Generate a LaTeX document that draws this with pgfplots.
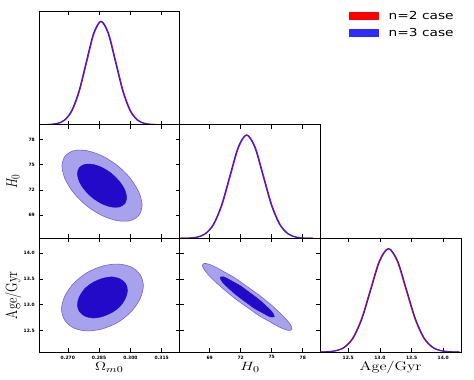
\documentclass[border=0pt]{standalone}
\usepackage{fontspec}
\usepackage{pgfplots}
\pgfplotsset{compat=1.18}
\newfontfamily\tickfont{DejaVu Sans}
\newfontfamily\legfont[FakeStretch=1.25]{DejaVu Sans}
\definecolor{bline}{RGB}{45,30,225}
\definecolor{rline}{RGB}{235,20,20}
\definecolor{outerc}{RGB}{168,162,236}
\definecolor{innerc}{RGB}{35,10,200}
\definecolor{edgec}{RGB}{125,95,205}
\pgfplotsset{
 cbase/.style={scale only axis, width=140.67pt, height=113.67pt, anchor=south west,
   axis line style={line width=0.9pt, black},
   every tick/.style={black, line width=0.6pt},
   major tick length=4pt, tick align=inside, xtick pos=both, ytick pos=both,
   /pgf/number format/assume math mode=true,
   ticklabel style={font=\tickfont\bfseries\fontsize{4.5}{5}\selectfont, inner sep=0pt},
   xticklabel style={yshift=-3.5pt}, yticklabel style={xshift=-4pt},
   every axis x label/.style={at={(axis description cs:0.5,-0.167)}, anchor=base, xscale=1.3, font=\fontsize{12.5}{14}\selectfont},
   every axis y label/.style={at={(axis description cs:-0.156,0.5)}, rotate=90, yscale=1.3, anchor=base, font=\fontsize{12.5}{14}\selectfont},
 },
 oned/.style={ymin=0, ymax=1.1, ytick=\empty},
 cA/.style={xmin=0.2562, xmax=0.3236, xtick={0.27,0.285,0.3,0.315}},
 cB/.style={xmin=66.1, xmax=79.7, xtick={69,72,75,78}},
 cC/.style={xmin=12.06, xmax=14.28, xtick={12.5,13,13.5,14}},
 rH/.style={ymin=66.2, ymax=79.8, ytick={69,72,75,78}},
 rA/.style={ymin=12.08, ymax=14.29, ytick={12.5,13,13.5,14}},
 bcurve/.style={bline, line width=1.1pt, smooth, forget plot},
 rcurve/.style={rline, line width=1.1pt, smooth, forget plot},
 outerfill/.style={fill=outerc, draw=edgec, line width=0.6pt, smooth cycle, forget plot},
 innerfill/.style={fill=innerc, draw=innerc, line width=0.4pt, smooth cycle, forget plot},
}
\begin{document}
\begin{tikzpicture}
\path[use as bounding box] (0,0) rectangle (474pt,380pt);
% ---------------- row 1: Omega 1D
\begin{axis}[cbase, oned, cA, at={(39pt,255.33pt)}, xticklabels={},
  legend style={draw=none, fill=none, at={(rel axis cs:2.204,1.012)}, anchor=north west,
     inner sep=0pt, font=\legfont\fontsize{11}{13}\selectfont, row sep=4pt, column sep=8pt, nodes={inner sep=1.5pt}},
  legend cell align=left,
  legend image code/.code={\fill[#1] (0pt,-3.8pt) rectangle (30pt,3.8pt);}]
\addplot[rcurve] coordinates {(0.2581,0.0003)(0.2616,0.0022)(0.2651,0.0111)(0.2686,0.0439)(0.2721,0.1353)(0.2756,0.3247)(0.2791,0.6065)(0.2826,0.8825)(0.2861,1)(0.2896,0.8825)(0.2931,0.6065)(0.2966,0.3247)(0.3001,0.1353)(0.3036,0.0439)(0.3071,0.0111)(0.3106,0.0022)(0.3141,0.0003)};
\addplot[bcurve] coordinates {(0.2578,0.0003)(0.2613,0.0022)(0.2648,0.0111)(0.2683,0.0439)(0.2718,0.1353)(0.2753,0.3247)(0.2788,0.6065)(0.2823,0.8825)(0.2858,1)(0.2893,0.8825)(0.2928,0.6065)(0.2963,0.3247)(0.2998,0.1353)(0.3033,0.0439)(0.3068,0.0111)(0.3103,0.0022)(0.3138,0.0003)};
\addlegendimage{fill=red, draw=none}
\addlegendentry{n=2 case}
\addlegendimage{fill={rgb,255:red,45;green,45;blue,255}, draw=none}
\addlegendentry{n=3 case}
\end{axis}
% ---------------- row 2: H0 vs Omega
\begin{axis}[cbase, cA, rH, at={(39pt,141.67pt)}, xticklabels={}, yticklabels={69,72,75,78}, ylabel={$H_0$}]
\addplot[outerfill] coordinates {(0.3056,70.15)(0.3041,71.70)(0.3000,73.36)(0.2938,74.90)(0.2864,76.07)(0.2790,76.69)(0.2728,76.68)(0.2687,76.03)(0.2672,74.85)(0.2687,73.30)(0.2728,71.64)(0.2790,70.10)(0.2864,68.93)(0.2938,68.31)(0.3000,68.32)(0.3041,68.97)};
\addplot[innerfill] coordinates {(0.2982,71.07)(0.2973,72.01)(0.2947,73.02)(0.2909,73.96)(0.2864,74.67)(0.2819,75.05)(0.2781,75.05)(0.2755,74.65)(0.2746,73.93)(0.2755,72.99)(0.2781,71.98)(0.2819,71.04)(0.2864,70.33)(0.2909,69.95)(0.2947,69.95)(0.2973,70.35)};
\end{axis}
% ---------------- row 2: H0 1D
\begin{axis}[cbase, oned, cB, at={(179.67pt,141.67pt)}, xticklabels={}]
\addplot[rcurve] coordinates {(66.21,0.0003)(67.01,0.0022)(67.81,0.0111)(68.61,0.0439)(69.41,0.1353)(70.21,0.3247)(71.01,0.6065)(71.81,0.8825)(72.61,1)(73.41,0.8825)(74.21,0.6065)(75.01,0.3247)(75.81,0.1353)(76.61,0.0439)(77.41,0.0111)(78.21,0.0022)(79.01,0.0003)};
\addplot[bcurve] coordinates {(66.15,0.0003)(66.95,0.0022)(67.75,0.0111)(68.55,0.0439)(69.35,0.1353)(70.15,0.3247)(70.95,0.6065)(71.75,0.8825)(72.55,1)(73.35,0.8825)(74.15,0.6065)(74.95,0.3247)(75.75,0.1353)(76.55,0.0439)(77.35,0.0111)(78.15,0.0022)(78.95,0.0003)};
\end{axis}
% ---------------- row 3: Age vs Omega
\begin{axis}[cbase, cA, rA, at={(39pt,28pt)}, xticklabels={0.270,0.285,0.300,0.315}, yticklabels={12.5,13.0,13.5,14.0}, xlabel={$\Omega_{m0}$}, ylabel={Age/Gyr}]
\addplot[outerfill] coordinates {(0.3062,13.37)(0.3047,13.58)(0.3005,13.73)(0.2941,13.79)(0.2866,13.75)(0.2791,13.62)(0.2727,13.41)(0.2685,13.16)(0.2670,12.91)(0.2685,12.70)(0.2727,12.55)(0.2791,12.49)(0.2866,12.53)(0.2941,12.66)(0.3005,12.87)(0.3047,13.12)};
\addplot[innerfill] coordinates {(0.2986,13.28)(0.2977,13.41)(0.2951,13.50)(0.2912,13.54)(0.2866,13.51)(0.2820,13.43)(0.2781,13.31)(0.2755,13.15)(0.2746,13.00)(0.2755,12.87)(0.2781,12.78)(0.2820,12.74)(0.2866,12.77)(0.2912,12.85)(0.2951,12.97)(0.2977,13.13)};
\end{axis}
% ---------------- row 3: Age vs H0
\begin{axis}[cbase, cB, rA, at={(179.67pt,28pt)}, xticklabels={69,72,75,78}, yticklabels={}, xlabel={$H_0$}]
\addplot[outerfill] coordinates {(76.96,12.53)(76.81,12.61)(76.38,12.72)(75.69,12.86)(74.80,13.02)(73.75,13.19)(72.63,13.35)(71.51,13.51)(70.47,13.63)(69.57,13.73)(68.88,13.79)(68.45,13.80)(68.30,13.77)(68.45,13.69)(68.88,13.58)(69.57,13.44)(70.47,13.28)(71.51,13.11)(72.63,12.95)(73.75,12.79)(74.80,12.67)(75.69,12.57)(76.38,12.51)(76.81,12.50)};
\addplot[innerfill] coordinates {(75.25,12.77)(75.16,12.82)(74.90,12.89)(74.48,12.97)(73.94,13.07)(73.31,13.17)(72.63,13.27)(71.95,13.37)(71.32,13.44)(70.78,13.50)(70.36,13.54)(70.10,13.54)(70.01,13.53)(70.10,13.48)(70.36,13.41)(70.78,13.33)(71.32,13.23)(71.95,13.13)(72.63,13.03)(73.31,12.93)(73.94,12.86)(74.48,12.80)(74.90,12.76)(75.16,12.76)};
\end{axis}
% ---------------- row 3: Age 1D
\begin{axis}[cbase, oned, cC, at={(320.33pt,28pt)}, xticklabels={12.5,13.0,13.5,14.0}, xlabel={Age/Gyr}]
\addplot[rcurve] coordinates {(12.03,0.0003)(12.17,0.0022)(12.29,0.0111)(12.43,0.0439)(12.57,0.1353)(12.71,0.3247)(12.85,0.6065)(12.99,0.8825)(13.13,1)(13.27,0.8825)(13.41,0.6065)(13.55,0.3247)(13.69,0.1353)(13.83,0.0439)(13.97,0.0111)(14.11,0.0022)(14.25,0.0003)};
\addplot[bcurve] coordinates {(12.02,0.0003)(12.16,0.0022)(12.30,0.0111)(12.44,0.0439)(12.58,0.1353)(12.72,0.3247)(12.86,0.6065)(13.00,0.8825)(13.14,1)(13.28,0.8825)(13.42,0.6065)(13.56,0.3247)(13.70,0.1353)(13.84,0.0439)(13.98,0.0111)(14.12,0.0022)(14.26,0.0003)};
\end{axis}
\end{tikzpicture}
\end{document}
